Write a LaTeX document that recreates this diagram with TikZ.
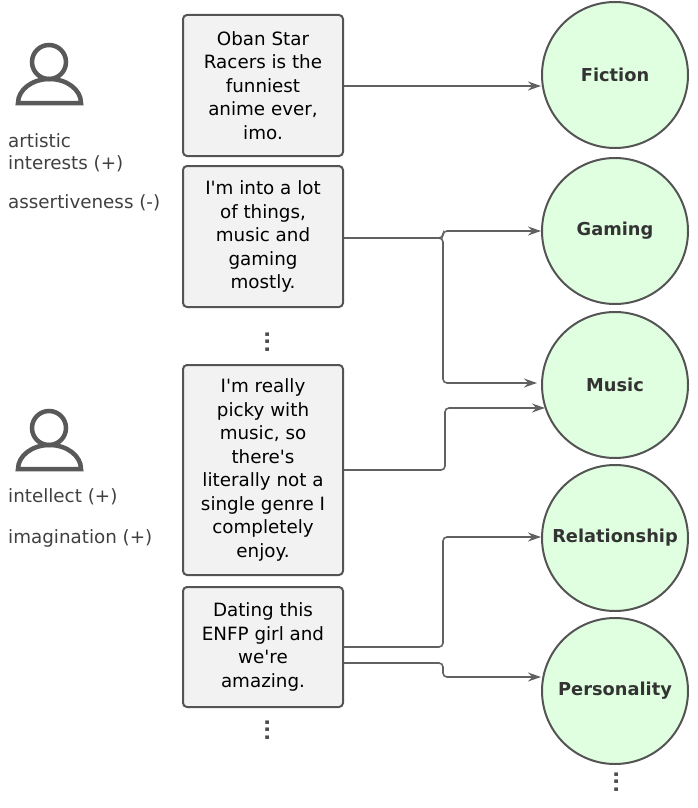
\documentclass[tikz,border=0pt]{standalone}
\usepackage{fontspec}
\setmainfont{DejaVu Sans}
\newfontfamily\apf{DejaVu Sans}
\usetikzlibrary{arrows.meta}
\newcommand{\ap}{{\apf'}}
\begin{document}
\begin{tikzpicture}[x=1pt,y=-1pt,
  box/.style={draw=black!67,line width=2pt,fill=gray!10,rounded corners=4pt,minimum width=160pt,align=center,font=\fontsize{18.3}{23.5}\selectfont,inner sep=0pt},
  cat/.style={circle,draw=black!67,line width=2pt,fill=green!12,minimum size=146pt,inner sep=0pt,font=\fontsize{17.8}{20}\selectfont\bfseries,text=black!80},
  lab/.style={anchor=west,font=\fontsize{18.3}{22}\selectfont,text=black!75,align=left,inner sep=0pt},
  con/.style={draw=black!62,line width=1.6pt,rounded corners=4pt,-{Stealth[length=13pt,width=9pt]}},
  dots/.style={font=\fontsize{20}{20}\selectfont\bfseries,text=black!70}]
\useasboundingbox (0,0) rectangle (697,808);
% icons
\foreach \n/\y in {p1/62,p2/428}{
  \draw[black!65,line width=4.5pt] (49,\y) circle (17);
  \draw[black!65,line width=4.5pt] (18,\y+41) arc[start angle=180,end angle=360,x radius=31.5,y radius=24] -- cycle;
}
\node[lab] (t1) at (8,153) {artistic\\interests (+)};
\node[lab] (t2) at (8,203) {assertiveness (-)};
\node[lab] (t3) at (8,497) {intellect (+)};
\node[lab] (t4) at (8,538) {imagination (+)};
% boxes
\node[box,minimum height=141pt] (b1) at (263,85.5) {Oban Star\\Racers is the\\funniest\\anime ever,\\imo.};
\node[box,minimum height=141pt] (b2) at (263,236.5) {I\ap m into a lot\\of things,\\music and\\gaming\\mostly.};
\node[box,minimum height=210pt] (b3) at (263,470) {I\ap m really\\picky with\\music, so\\there\ap s\\literally not a\\single genre I\\completely\\enjoy.};
\node[box,minimum height=120pt] (b4) at (263,647) {Dating this\\ENFP girl and\\we\ap re\\amazing.};
\node[dots] (d1) at (268,342) {\rotatebox{90}{...}};
\node[dots] (d2) at (268,730) {\rotatebox{90}{...}};
\node[dots] (d3) at (617,782) {\rotatebox{90}{...}};
% circles
\node[cat] (c1) at (615,75) {Fiction};
\node[cat] (c2) at (615,231) {Gaming};
\node[cat] (c3) at (615,385) {Music};
\node[cat] (c4) at (615,538) {Relationship};
\node[cat] (c5) at (615,691) {Personality};
% connectors
\coordinate (s2) at (b2.east |- 0,238);
\coordinate (s3) at (b3.east |- 0,470);
\coordinate (s4a) at (b4.east |- 0,647);
\coordinate (s4b) at (b4.east |- 0,663);
\draw[con] (b1.east |- 0,86) -- (c1.west |- 0,86);
\draw[con] (s2) -- (443,238) -- (443,231) -- (c2.west |- 0,231);
\draw[con] (s2) -- (443,238) -- (443,383) -- (537,383);
\draw[con] (s3) -- (445,470) -- (445,408) -- (545,408);
\draw[con] (s4a) -- (443,647) -- (443,537) -- (c4.west |- 0,537);
\draw[con] (s4b) -- (443,663) -- (443,677) -- (c5.west |- 0,677);
\end{tikzpicture}
\end{document}
